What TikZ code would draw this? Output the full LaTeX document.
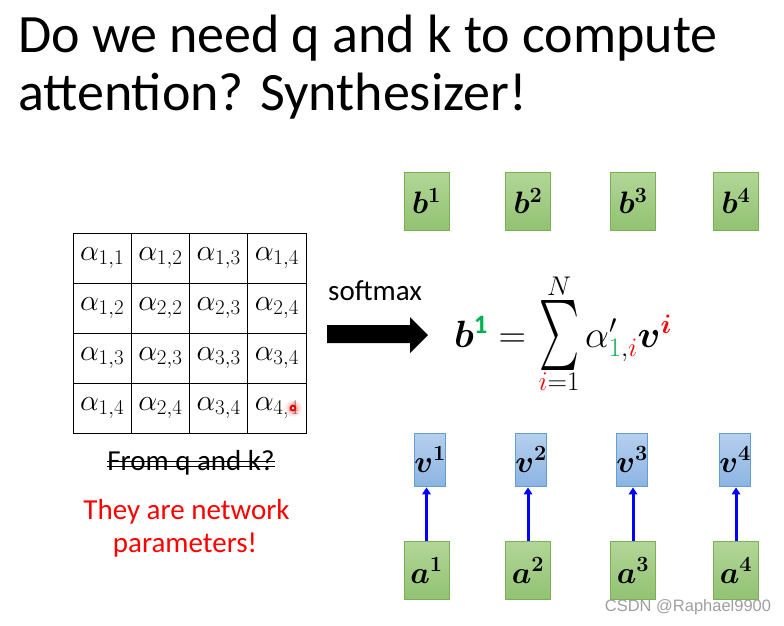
\RequirePackage{fix-cm}
\documentclass[tikz,border=0pt]{standalone}
\usepackage{amsmath,bm,graphicx}
\usepackage{fontspec}
\setmainfont{Carlito}
\newfontfamily\wmfont{Liberation Sans}
\usetikzlibrary{arrows.meta}
\definecolor{gtop}{RGB}{178,214,152}
\definecolor{gbot}{RGB}{146,194,114}
\definecolor{gline}{RGB}{120,176,82}
\definecolor{btop}{RGB}{182,208,238}
\definecolor{bbot}{RGB}{140,180,226}
\definecolor{bline}{RGB}{100,156,214}
\definecolor{fgreen}{RGB}{0,176,80}
\definecolor{fred}{RGB}{255,0,0}
\tikzset{
  titletext/.style={font=\fontsize{54}{60}\selectfont, inner sep=0, anchor=base west},
  cell/.style={draw, line width=1pt, minimum width=58.25pt, minimum height=50pt, inner sep=0, outer sep=0, font=\fontsize{30}{32}\selectfont},
  bodytext/.style={font=\fontsize{29}{32}\selectfont, inner sep=0, anchor=base},
  formtext/.style={font=\fontsize{38}{42}\selectfont, inner sep=0, anchor=base west},
  limtext/.style={font=\fontsize{27}{30}\selectfont, inner sep=0},
  gbox/.style={draw=gline, line width=0.8pt, top color=gtop, bottom color=gbot, minimum width=45pt, minimum height=58pt, inner sep=0, font=\fontsize{31}{33}\selectfont},
  vbox/.style={draw=bline, line width=0.8pt, top color=btop, bottom color=bbot, minimum width=28pt, minimum height=53pt, inner sep=0, font=\fontsize{31}{33}\selectfont},
  varrow/.style={blue, line width=3pt, -{Triangle[width=8.5pt,length=7pt]}, shorten >=1pt}
}
\begin{document}
\begin{tikzpicture}[x=1pt,y=-1pt]
\useasboundingbox (0,0) rectangle (784,625);
\fill[white] (0,0) rectangle (784,625);

% title
\node[titletext] (t1) at (18,52) {Do we need q and k to compute};
\node[titletext] (t2) at (18,110) {attention? Synthesizer!};

% matrix
\foreach \r/\c/\s in {1/1/{1,1},1/2/{1,2},1/3/{1,3},1/4/{1,4},
                      2/1/{1,2},2/2/{2,2},2/3/{2,3},2/4/{2,4},
                      3/1/{1,3},3/2/{2,3},3/3/{3,3},3/4/{3,4},
                      4/1/{1,4},4/2/{2,4},4/3/{3,4},4/4/{4,4}}{
  \node[cell] (c\r\c) at ({73+58.25*(\c-0.5)},{233+50*(\r-0.5)}) {$\alpha_{\s}$};
}
% laser pointer dot
\shade[inner color=red!70, outer color=red!0, opacity=0.6] (293,408) circle (9);
\fill[red!90!black] (293,408) circle (3.4);
\fill[red!15] (293,408) circle (1.5);

% from q and k (struck)
\node[bodytext] (fq) at (191,470) {From q and k?};
\draw[line width=1pt] ([yshift=8.3pt]fq.base west) -- ([yshift=8.3pt]fq.base east);
\draw[line width=1pt] ([yshift=3.6pt]fq.base west) -- ([yshift=3.6pt]fq.base east);
\node[bodytext, text=fred] (np1) at (186.5,519) {They are network};
\node[bodytext, text=fred] (np2) at (185,552) {parameters!};

% softmax arrow
\node[bodytext, anchor=base west] (sm) at (328,300) {softmax};
\fill (327,325) -- (410,325) -- (410,317) -- (428,335) -- (410,353) -- (410,343) -- (327,343) -- cycle;

% formula
\node[formtext] (fl) at (454,347) {$\bm{b}^{\textcolor{fgreen}{\mathbf{1}}} =$};
\node[inner sep=0] (sig) at (559,335) {\resizebox*{40pt}{70pt}{$\sum$}};
\node[limtext, anchor=south] (lN) at ([yshift=4pt]sig.north) {$N$};
\node[limtext, anchor=north] (li) at ([yshift=-2pt]sig.south) {$\textcolor{fred}{i}{=}1$};
\node[formtext] (fr) at (585,347) {$\alpha'_{\textcolor{fgreen}{1},\textcolor{fred}{i}}\bm{v}^{\textcolor{fred}{\bm{i}}}$};

% b boxes
\node[gbox] (b1) at (426.5,201) {$\bm{b}^{\bm{1}}$};
\node[gbox] (b2) at (528,201) {$\bm{b}^{\bm{2}}$};
\node[gbox] (b3) at (633,201) {$\bm{b}^{\bm{3}}$};
\node[gbox] (b4) at (736,201) {$\bm{b}^{\bm{4}}$};

% v boxes
\node[vbox] (v1) at (430,459.5) {$\bm{v}^{\bm{1}}$};
\node[vbox] (v2) at (531,459.5) {$\bm{v}^{\bm{2}}$};
\node[vbox] (v3) at (632,459.5) {$\bm{v}^{\bm{3}}$};
\node[vbox] (v4) at (735,459.5) {$\bm{v}^{\bm{4}}$};

% a boxes
\node[gbox] (a1) at (426.5,570.5) {$\bm{a}^{\bm{1}}$};
\node[gbox] (a2) at (528,570.5) {$\bm{a}^{\bm{2}}$};
\node[gbox] (a3) at (633,570.5) {$\bm{a}^{\bm{3}}$};
\node[gbox] (a4) at (736,570.5) {$\bm{a}^{\bm{4}}$};

\foreach \k in {1,2,3,4}{
  \draw[varrow] (a\k.north) -- (a\k.north |- v\k.south);
}

% watermark
\node[inner sep=0, text=gray!75, font=\fontsize{16.5}{18}\selectfont\wmfont] (wm) at (688,607) {CSDN @Raphael9900};
\end{tikzpicture}
\end{document}
